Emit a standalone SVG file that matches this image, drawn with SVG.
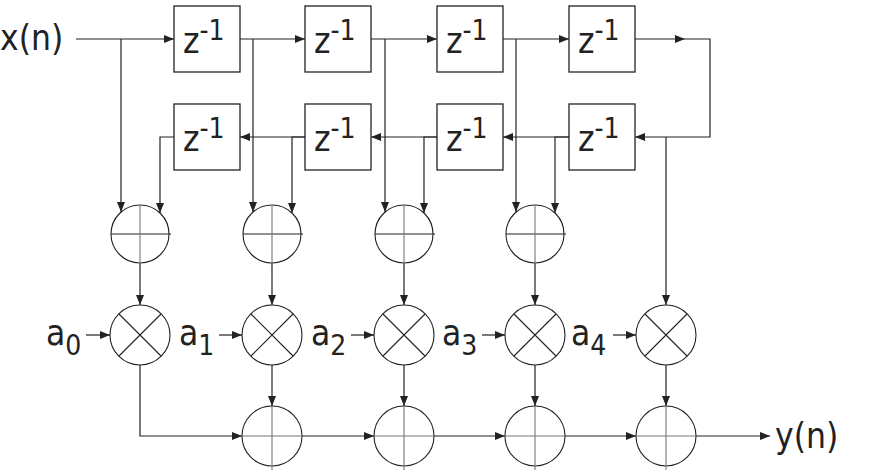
<svg xmlns="http://www.w3.org/2000/svg" width="870" height="475" viewBox="0 0 870 475">
<style>
.b{fill:#fff;stroke:#222;stroke-width:1.3}
.c{fill:none;stroke:#222;stroke-width:1.1}
.g{stroke:#777;stroke-width:1.1}
.w{fill:none;stroke:#222;stroke-width:1.2}
text{font-family:"DejaVu Sans Condensed","DejaVu Sans",sans-serif;fill:#222}
.t{font-size:35px}
.s{font-size:28px}
</style>
<defs><marker id="a" viewBox="0 0 10 8" refX="10" refY="4" markerWidth="10" markerHeight="8" markerUnits="userSpaceOnUse" orient="auto"><path d="M0,0L10,4L0,8z" fill="#222"/></marker></defs>
<text x="0" y="50" class="t">x(n)</text>
<g id="labels">
<text x="46" y="345" class="t">a<tspan class="s" dy="10">0</tspan></text>
<text x="179" y="345" class="t">a<tspan class="s" dy="10">1</tspan></text>
<text x="311" y="345" class="t">a<tspan class="s" dy="10">2</tspan></text>
<text x="442" y="345" class="t">a<tspan class="s" dy="10">3</tspan></text>
<text x="571" y="345" class="t">a<tspan class="s" dy="10">4</tspan></text>
<text x="775" y="448" class="t">y(n)</text>
</g>
<g id="connectors" class="w" marker-end="url(#a)">
<path d="M76,39H174"/><path d="M240,39H305"/><path d="M371,39H437"/><path d="M503,39H569"/>
<path d="M635,39H685"/><path d="M685,39H710V137H635"/>
<path d="M569,137H503"/><path d="M437,137H371"/><path d="M305,137H240"/>
<path d="M121,39V212"/><path d="M253,39V212"/><path d="M385,39V212"/><path d="M516,39V212"/>
<path d="M174,137H160V213"/><path d="M305,137H292V213"/><path d="M437,137H424V213"/><path d="M569,137H555V213"/>
<path d="M666,137V305"/>
<path d="M140,263V305"/><path d="M272,263V305"/><path d="M404,263V305"/><path d="M535,263V305"/>
<path d="M86,335H110"/><path d="M219,335H242"/><path d="M351,335H374"/><path d="M482,335H505"/><path d="M613,335H636"/>
<path d="M272,365V406"/><path d="M404,365V406"/><path d="M535,365V406"/><path d="M666,365V406"/>
<path d="M140,365V436H242"/><path d="M302,436H374"/><path d="M434,436H505"/><path d="M565,436H636"/><path d="M696,436H770"/>
</g>
<g id="delays">
<g id="d1"><rect class="b" x="174" y="6" width="66" height="66"/><text x="183" y="53" class="t">z<tspan class="s" dy="-13">-1</tspan></text></g>
<g id="d2"><rect class="b" x="305" y="6" width="66" height="66"/><text x="314" y="53" class="t">z<tspan class="s" dy="-13">-1</tspan></text></g>
<g id="d3"><rect class="b" x="437" y="6" width="66" height="66"/><text x="446" y="53" class="t">z<tspan class="s" dy="-13">-1</tspan></text></g>
<g id="d4"><rect class="b" x="569" y="6" width="66" height="66"/><text x="578" y="53" class="t">z<tspan class="s" dy="-13">-1</tspan></text></g>
<g id="d5"><rect class="b" x="174" y="104" width="66" height="66"/><text x="183" y="151" class="t">z<tspan class="s" dy="-13">-1</tspan></text></g>
<g id="d6"><rect class="b" x="305" y="104" width="66" height="66"/><text x="314" y="151" class="t">z<tspan class="s" dy="-13">-1</tspan></text></g>
<g id="d7"><rect class="b" x="437" y="104" width="66" height="66"/><text x="446" y="151" class="t">z<tspan class="s" dy="-13">-1</tspan></text></g>
<g id="d8"><rect class="b" x="569" y="104" width="66" height="66"/><text x="578" y="151" class="t">z<tspan class="s" dy="-13">-1</tspan></text></g>
</g>
<g id="preadders">
<g id="p1"><ellipse class="c" cx="140" cy="234" rx="29" ry="29"/><path class="c" d="M111,234H171"/><path class="g" d="M140,205V268"/></g>
<g id="p2"><ellipse class="c" cx="272" cy="234" rx="29" ry="29"/><path class="c" d="M243,234H303"/><path class="g" d="M272,205V268"/></g>
<g id="p3"><ellipse class="c" cx="404" cy="234" rx="29" ry="29"/><path class="c" d="M375,234H435"/><path class="g" d="M404,205V268"/></g>
<g id="p4"><ellipse class="c" cx="535" cy="234" rx="29" ry="29"/><path class="c" d="M506,234H566"/><path class="g" d="M535,205V268"/></g>
</g>
<g id="mults">
<g id="m1"><ellipse class="c" cx="140" cy="335" rx="30" ry="30"/><path class="c" d="M119,314L161,356M161,314L119,356"/></g>
<g id="m2"><ellipse class="c" cx="272" cy="335" rx="30" ry="30"/><path class="c" d="M251,314L293,356M293,314L251,356"/></g>
<g id="m3"><ellipse class="c" cx="404" cy="335" rx="30" ry="30"/><path class="c" d="M383,314L425,356M425,314L383,356"/></g>
<g id="m4"><ellipse class="c" cx="535" cy="335" rx="30" ry="30"/><path class="c" d="M514,314L556,356M556,314L514,356"/></g>
<g id="m5"><ellipse class="c" cx="666" cy="335" rx="30" ry="30"/><path class="c" d="M645,314L687,356M687,314L645,356"/></g>
</g>
<g id="sums">
<g id="s1"><ellipse class="c" cx="272" cy="436" rx="30" ry="30"/><path class="g" d="M242,436H302M272,406V470"/></g>
<g id="s2"><ellipse class="c" cx="404" cy="436" rx="30" ry="30"/><path class="g" d="M374,436H434M404,406V470"/></g>
<g id="s3"><ellipse class="c" cx="535" cy="436" rx="30" ry="30"/><path class="g" d="M505,436H565M535,406V470"/></g>
<g id="s4"><ellipse class="c" cx="666" cy="436" rx="30" ry="30"/><path class="g" d="M636,436H696M666,406V470"/></g>
</g>
</svg>
